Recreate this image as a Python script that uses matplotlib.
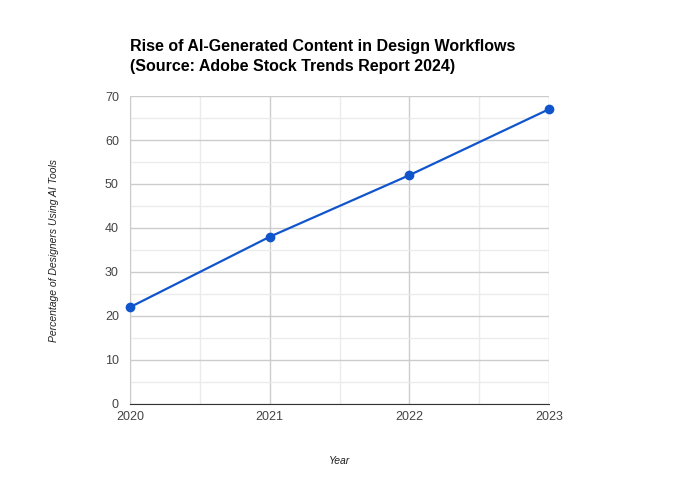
import numpy as np
import matplotlib.pyplot as plt
from matplotlib.ticker import MultipleLocator

years = [2020, 2021, 2022, 2023]
pct = [22, 38, 52, 67]
title = "Rise of AI-Generated Content in Design Workflows\n(Source: Adobe Stock Trends Report 2024)"

plt.rcParams['font.family'] = ['Liberation Sans', 'DejaVu Sans']

fig = plt.figure(figsize=(6.8, 5.0), dpi=100)
ax = fig.add_axes([130/680, 96/500, 419/680, 308/500])

ax.plot(years, pct, color='#1155cc', lw=1.6, marker='o', ms=6, zorder=3, clip_on=False)

ax.set_xlim(2020, 2023)
ax.set_ylim(0, 70)
ax.set_xticks(years)
ax.set_xticklabels([str(y) for y in years])
ax.xaxis.set_minor_locator(MultipleLocator(0.5))
ax.yaxis.set_major_locator(MultipleLocator(10))
ax.yaxis.set_minor_locator(MultipleLocator(5))
ax.grid(which='major', color='#cccccc', lw=1)
ax.grid(which='minor', color='#ebebeb', lw=1)
ax.set_axisbelow(True)
ax.tick_params(which='both', length=0, labelsize=9, colors='#444444')
ax.tick_params(axis='x', pad=5)
ax.tick_params(axis='y', pad=8)

for s in ['top', 'right']:
    ax.spines[s].set_visible(False)
ax.spines['left'].set_color('#cccccc')
ax.spines['bottom'].set_color('#333333')

ax.set_xlabel('Year', fontsize=7.5, style='italic', color='#222222', labelpad=24)
ax.set_ylabel('Percentage of Designers Using AI Tools', fontsize=7.5, style='italic',
              color='#222222', labelpad=33)

fig.text(130/680, 1 - 39/500, title, fontsize=11.5, fontweight='bold', va='top', ha='left',
         linespacing=1.45)

fig.savefig('out.png', dpi=100)
